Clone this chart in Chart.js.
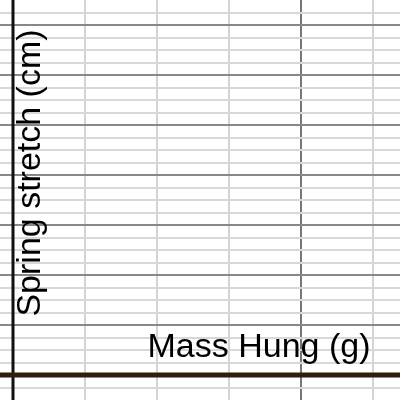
<!DOCTYPE html>
<html>
<head>
<meta charset="UTF-8">
<script src="https://cdn.jsdelivr.net/npm/chart.js"></script>
<style>
  body { margin: 0; background: #fff; }
</style>
</head>
<body>
<canvas id="graph" width="400" height="400"></canvas>
<script>
  // grid paper: x in 1 g steps, y in 1 cm steps (major every 4)
  const xTicks = [0, 1, 2, 3, 4, 5];
  const yTicks = [-1, 0, 1, 2, 3, 4, 5, 6, 7, 8, 9, 10, 11, 12, 13, 14, 15, 16, 17, 18, 19, 20, 21, 22, 23, 24, 25, 26, 27, 28, 29];
  const xTitle = "Mass Hung (g)";
  const yTitle = "Spring stretch (cm)";
  const points = [];

  // axes and titles drawn on top of the grid
  const overlay = {
    id: "overlay",
    afterDraw(chart) {
      const c = chart.ctx;
      const x0 = chart.scales.x.getPixelForValue(0);
      const y0 = chart.scales.y.getPixelForValue(0);
      c.save();
      c.strokeStyle = "#111";
      c.lineWidth = 3;
      c.beginPath();
      c.moveTo(x0, 0);
      c.lineTo(x0, chart.height);
      c.stroke();
      c.strokeStyle = "#2e1f0c";
      c.lineWidth = 5;
      c.beginPath();
      c.moveTo(0, y0);
      c.lineTo(chart.width, y0);
      c.stroke();

      c.fillStyle = "#000";
      c.font = "34px 'Liberation Sans', Arial, sans-serif";
      c.textAlign = "center";
      c.textBaseline = "middle";
      c.fillText(xTitle, 259, 348);
      c.translate(31, 173);
      c.rotate(-Math.PI / 2);
      c.fillText(yTitle, 0, 0);
      c.restore();
    }
  };

  new Chart(document.getElementById("graph"), {
    type: "scatter",
    data: { datasets: [{ data: points }] },
    plugins: [overlay],
    options: {
      responsive: false,
      animation: false,
      layout: { padding: 0 },
      plugins: { legend: { display: false }, tooltip: { enabled: false } },
      scales: {
        x: {
          type: "linear",
          min: -13 / 72,
          max: 387 / 72,
          afterBuildTicks: s => { s.ticks = xTicks.map(v => ({ value: v })); },
          ticks: { display: false },
          border: { display: false },
          grid: {
            drawTicks: false,
            color: ctx => ctx.tick.value === 4 ? "#777" : "#d4d4d4",
            lineWidth: 2
          }
        },
        y: {
          type: "linear",
          min: -2,
          max: 30,
          afterBuildTicks: s => { s.ticks = yTicks.map(v => ({ value: v })); },
          ticks: { display: false },
          border: { display: false },
          grid: {
            drawTicks: false,
            color: ctx => ctx.tick.value % 4 === 0 ? "#888" : "#d8d8d8",
            lineWidth: 2
          }
        }
      }
    }
  });
</script>
</body>
</html>
